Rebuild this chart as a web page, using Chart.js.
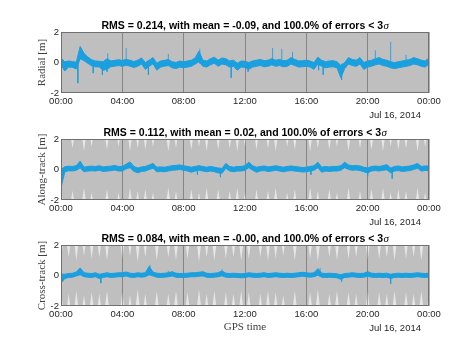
<!DOCTYPE html>
<html><head><meta charset="utf-8">
<script src="https://cdn.jsdelivr.net/npm/chart.js@4.4.1/dist/chart.umd.min.js"></script>
<style>
html,body{margin:0;padding:0;background:#fff;}
body{width:474px;height:355px;overflow:hidden;position:relative;}
canvas{position:absolute;left:0;}
</style></head>
<body>
<canvas id="c1" width="474" height="125" style="top:0px"></canvas>
<canvas id="c2" width="474" height="125" style="top:107px"></canvas>
<canvas id="c3" width="474" height="142" style="top:213px"></canvas>
<script>
// ---- data (hours 0..24 every 0.25 h) ----
const stepHours = 0.25;
const xTickHours = [0, 4, 8, 12, 16, 20, 24];
const yTickValues = [-2, 0, 2];
const dateLabel = 'Jul 16, 2014';

const titles = [
  {text: 'RMS = 0.214, with mean = -0.09, and 100.0% of errors < 3', sym: 'σ'},
  {text: 'RMS = 0.112, with mean = 0.02, and 100.0% of errors < 3', sym: 'σ'},
  {text: 'RMS = 0.084, with mean = -0.00, and 100.0% of errors < 3', sym: 'σ'}
];
const yLabels = ['Radial [m]', 'Along-track [m]', 'Cross-track [m]'];
const xLabel = 'GPS time';
const means = [-0.09, 0.02, 0.00];

// 3-sigma bounds
const radialSig = [2.9,2.6,2.7,2.5,2.8,3.0,2.7,2.6,2.5,2.7,2.8,2.6,2.7,2.5,2.6,2.8,2.7,2.6,2.5,2.7,
  2.8,2.6,2.7,2.5,2.6,2.8,2.7,2.6,2.5,2.7,2.8,2.6,2.7,2.5,2.6,2.8,2.9,2.6,2.5,2.7,
  2.8,2.6,2.7,2.5,2.6,2.8,2.7,2.6,2.5,2.7,2.8,2.6,2.7,2.5,2.6,2.8,2.7,2.6,2.5,2.7,
  2.8,2.6,2.7,2.5,2.6,2.8,2.7,2.6,2.5,2.7,2.8,2.6,2.7,2.5,2.6,2.8,2.7,2.6,2.5,2.7,
  2.8,2.6,2.7,2.5,2.6,2.8,2.7,2.6,2.5,2.7,2.8,2.6,2.7,2.5,2.6,2.8,2.7];
const alongSig = [1.3,3.0,3.1,1.4,3.0,3.1,1.2,3.0,1.5,3.1,3.0,2.9,1.3,3.0,3.1,1.5,3.0,3.1,1.2,3.0,
  1.4,3.1,1.3,3.0,1.5,3.0,3.1,2.9,1.2,3.0,1.4,3.1,3.0,2.9,1.3,3.0,1.5,3.0,1.2,3.1,
  3.0,1.3,3.0,3.1,1.4,3.0,1.2,3.1,1.5,3.0,3.1,1.3,3.0,2.9,1.4,3.0,1.2,3.0,3.1,1.5,
  3.0,1.3,3.1,3.0,2.9,1.2,3.0,1.4,3.1,3.0,1.3,3.0,1.5,3.1,3.0,1.2,3.0,3.1,1.4,3.0,
  2.9,1.3,3.0,3.1,1.2,3.0,1.5,3.1,1.3,3.0,1.4,3.0,3.1,1.2,3.0,1.5,3.0];
const crossSig = [1.1,3.0,1.2,3.1,1.0,3.0,1.3,3.1,1.1,3.0,1.2,3.0,1.0,3.1,2.9,3.0,1.1,3.0,1.3,3.1,
  0.9,3.0,1.2,3.1,3.0,1.0,3.1,3.0,1.2,3.0,1.0,3.1,3.0,1.1,3.0,3.1,0.9,3.0,1.2,3.1,
  1.0,3.0,3.1,1.1,3.0,1.2,3.1,1.0,3.0,1.1,3.1,3.0,1.2,3.0,1.0,3.1,1.1,3.0,1.3,3.1,
  3.0,1.0,3.1,2.9,3.0,1.1,3.1,0.9,3.0,3.1,1.2,3.0,1.0,3.1,3.0,1.1,3.0,1.2,3.1,3.0,
  1.0,3.0,3.1,1.1,3.0,1.2,3.1,1.0,3.0,3.1,1.1,3.0,1.2,3.1,1.0,3.0,1.2];

// error series envelopes (upper / lower)
const radialHi = [0.30,0.05,0.10,0.06,0.02,1.05,0.60,0.36,0.18,0.10,0.08,0.05,0.25,0.10,0.14,0.18,0.14,0.20,0.15,0.06,
  0.15,0.30,0.00,0.15,0.32,-0.05,0.10,0.14,0.20,0.05,0.00,0.10,0.05,0.10,0.15,0.30,0.75,0.15,0.10,0.25,
  0.35,0.15,0.30,0.25,0.10,0.15,-0.05,0.10,0.08,0.00,0.10,0.15,0.20,0.12,0.15,0.25,0.15,0.20,0.12,0.15,
  0.32,0.20,0.10,0.12,0.15,0.10,0.00,0.35,0.15,0.05,0.10,0.12,0.05,-0.20,0.00,0.32,0.20,0.15,0.32,0.00,
  0.10,0.15,0.25,0.32,0.20,0.15,0.05,0.00,0.05,0.10,0.15,0.20,0.32,0.25,0.15,0.10,0.30];
const radialLo = [-0.20,-0.55,-0.30,-0.32,-0.42,0.25,0.12,-0.05,-0.22,-0.28,-0.30,-0.50,-0.45,-0.28,-0.24,-0.20,-0.25,-0.18,-0.24,-0.32,
  -0.25,-0.10,-0.45,-0.25,-0.08,-0.50,-0.30,-0.24,-0.20,-0.35,-0.40,-0.30,-0.35,-0.30,-0.25,-0.10,0.05,-0.25,-0.30,-0.15,
  -0.05,-0.25,-0.10,-0.15,-0.30,-0.25,-0.50,-0.30,-0.32,-0.45,-0.30,-0.25,-0.20,-0.28,-0.25,-0.15,-0.25,-0.20,-0.28,-0.25,
  -0.10,-0.20,-0.30,-0.28,-0.25,-0.30,-0.45,-0.10,-0.25,-0.35,-0.30,-0.28,-0.35,-1.00,-0.40,-0.10,-0.20,-0.25,-0.10,-0.45,
  -0.30,-0.25,-0.15,-0.10,-0.20,-0.25,-0.35,-0.40,-0.35,-0.30,-0.25,-0.20,-0.10,-0.15,-0.25,-0.30,-0.10];
const alongHi = [0.00,0.18,0.22,0.20,0.25,0.55,0.15,0.20,0.22,0.20,0.25,0.17,0.20,0.22,0.27,0.20,0.20,0.35,0.50,0.20,
  0.10,0.17,0.20,0.30,0.40,0.15,0.17,0.15,0.20,0.25,0.27,0.30,0.25,0.20,0.15,0.20,0.25,0.20,0.15,0.20,
  0.15,0.10,0.07,0.40,0.20,0.15,0.20,0.20,0.25,0.48,0.25,0.15,0.20,0.23,0.17,0.20,0.25,0.20,0.15,0.20,
  0.23,0.20,0.17,0.13,0.15,0.20,0.25,0.48,0.15,0.20,0.17,0.20,0.20,0.25,0.48,0.30,0.25,0.27,0.23,0.15,
  0.10,0.20,0.23,0.20,0.25,0.32,0.10,0.20,0.23,0.17,0.20,0.23,0.30,0.40,0.20,0.23,0.23];
const alongLo = [-1.20,-0.15,-0.08,-0.10,-0.05,0.10,-0.15,-0.10,-0.08,-0.10,-0.05,-0.13,-0.10,-0.08,-0.03,-0.10,-0.10,0.05,0.12,-0.12,
  -0.22,-0.13,-0.10,0.00,0.08,-0.15,-0.13,-0.15,-0.10,-0.05,-0.03,0.00,-0.05,-0.10,-0.18,-0.10,-0.05,-0.10,-0.15,-0.10,
  -0.15,-0.22,-0.25,0.08,-0.10,-0.15,-0.10,-0.10,-0.05,0.12,-0.05,-0.18,-0.10,-0.07,-0.13,-0.10,-0.05,-0.10,-0.15,-0.10,
  -0.07,-0.10,-0.13,-0.17,-0.15,-0.10,-0.05,0.12,-0.18,-0.10,-0.13,-0.10,-0.10,-0.05,0.12,0.00,-0.05,-0.03,-0.07,-0.15,
  -0.22,-0.10,-0.07,-0.10,-0.05,-0.02,-0.22,-0.10,-0.07,-0.13,-0.10,-0.07,0.00,0.08,-0.10,-0.07,-0.07];
const crossHi = [0.10,0.08,0.13,0.15,0.23,0.50,0.18,0.15,0.13,0.18,0.08,0.13,0.18,0.13,0.15,0.18,0.18,0.23,0.15,0.13,
  0.18,0.15,0.18,0.60,0.23,0.15,0.13,0.15,0.18,0.25,0.15,0.13,0.13,0.15,0.18,0.18,0.21,0.25,0.15,0.13,
  0.15,0.18,0.30,0.15,0.13,0.15,0.13,0.11,0.13,0.18,0.15,0.13,0.15,0.18,0.13,0.15,0.18,0.15,0.13,0.15,
  0.13,0.15,0.18,0.21,0.18,0.15,0.18,0.45,0.15,0.13,0.15,0.13,0.11,0.05,0.13,0.15,0.18,0.15,0.13,0.15,
  0.25,0.15,0.13,0.15,0.13,0.15,0.08,0.13,0.15,0.13,0.15,0.13,0.15,0.18,0.15,0.13,0.15];
const crossLo = [-0.50,-0.20,-0.13,-0.11,-0.03,0.05,-0.08,-0.11,-0.13,-0.08,-0.20,-0.13,-0.08,-0.13,-0.11,-0.08,-0.08,-0.03,-0.11,-0.13,
  -0.08,-0.11,-0.08,0.05,-0.03,-0.11,-0.13,-0.11,-0.08,-0.03,-0.11,-0.13,-0.13,-0.11,-0.08,-0.08,-0.05,-0.03,-0.11,-0.13,
  -0.11,-0.08,-0.02,-0.11,-0.13,-0.11,-0.13,-0.15,-0.13,-0.08,-0.11,-0.13,-0.11,-0.08,-0.13,-0.11,-0.08,-0.11,-0.13,-0.11,
  -0.13,-0.11,-0.08,-0.05,-0.08,-0.11,-0.08,0.02,-0.11,-0.13,-0.11,-0.13,-0.15,-0.25,-0.13,-0.11,-0.08,-0.11,-0.13,-0.11,
  -0.05,-0.11,-0.13,-0.11,-0.13,-0.11,-0.20,-0.13,-0.11,-0.13,-0.11,-0.13,-0.11,-0.08,-0.11,-0.13,-0.11];

// isolated spikes (hour, value)
const radialSpikeT = [0.03, 1.1, 2.1, 2.7, 3.0, 3.05, 4.25, 5.7, 7.0, 9.05, 11.1, 12.2, 13.8, 14.4, 15.1, 16.8, 17.1, 18.3, 20.5, 21.5, 22.5];
const radialSpikeV = [2.0, -1.35, -0.7, -0.8, -0.6, 0.6, 0.95, -0.8, 0.55, 0.9, -1.0, -0.6, 0.95, 0.9, 0.7, -0.5, -0.8, -1.15, 0.8, 1.35, 0.5];
const alongSpikeT = [0.03, 8.9, 10.4, 16.3, 20.0, 21.6];
const alongSpikeV = [-1.6, -0.35, -0.5, -0.35, -0.45, -0.6];
const crossSpikeT = [2.6, 5.8, 7.0, 10.5, 16.9, 18.3, 21.5];
const crossSpikeV = [-0.5, 0.7, 0.3, 0.4, 0.5, -0.4, -0.55];

// ---- drawing ----
const SANS = '"Liberation Sans", Arial, Helvetica, sans-serif';
const SERIF = '"Liberation Serif", "Times New Roman", serif';
const BLUE = '#1a9fdf';

function pts(arr, sign) {
  return arr.map((v, i) => ({x: i * stepHours, y: sign * v}));
}
function spikePts(ts, vs, base) {
  const out = [];
  ts.forEach((t, i) => { out.push({x: t, y: base}, {x: t, y: vs[i]}, {x: t, y: null}); });
  return out;
}

const deco = {
  id: 'deco',
  beforeDraw(chart, args, o) {
    const {ctx, chartArea: a} = chart;
    ctx.save();
    ctx.fillStyle = '#e6e6e6';
    ctx.fillRect(a.left, a.top, a.right - a.left, a.bottom - a.top);
    ctx.restore();
  },
  afterDraw(chart, args, o) {
    const {ctx, chartArea: a} = chart;
    ctx.save();
    ctx.strokeStyle = '#707070';
    ctx.lineWidth = 1;
    ctx.strokeRect(a.left + 0.5, a.top + 0.5, a.right - a.left - 1, a.bottom - a.top - 1);
    const fMain = 'bold 10.5px ' + SANS;
    const fSym = 'italic 11px ' + SERIF;
    ctx.font = fMain; const w1 = ctx.measureText(o.title.text).width;
    ctx.font = fSym; const w2 = ctx.measureText(o.title.sym).width;
    const cx = (a.left + a.right) / 2;
    const x0 = cx - (w1 + w2) / 2;
    const by = a.top - 3;
    ctx.fillStyle = '#000';
    ctx.textBaseline = 'alphabetic';
    ctx.textAlign = 'left';
    ctx.font = fMain; ctx.fillText(o.title.text, x0, by);
    ctx.font = fSym; ctx.fillText(o.title.sym, x0 + w1 + 0.5, by);
    ctx.font = '9.5px ' + SANS;
    ctx.fillStyle = '#262626';
    ctx.textAlign = 'right';
    ctx.fillText(dateLabel, a.right - 8, a.bottom + 25);
    ctx.restore();
  }
};

function makeChart(id, idx, sig, hi, lo, spT, spV, xH, showX) {
  const ctx = document.getElementById(id).getContext('2d');
  return new Chart(ctx, {
    type: 'line',
    data: {
      datasets: [
        {data: pts(sig, 1), order: 10, fill: '+1', backgroundColor: 'rgba(0,0,0,0.17)', borderColor: 'transparent', borderWidth: 0, pointRadius: 0},
        {data: pts(sig, -1), order: 9, fill: false, borderColor: 'transparent', borderWidth: 0, pointRadius: 0},
        {data: pts(hi, 1), order: 2, fill: '+1', backgroundColor: BLUE, borderColor: BLUE, borderWidth: 1, pointRadius: 0},
        {data: pts(lo, 1), order: 1, fill: false, borderColor: BLUE, borderWidth: 1, pointRadius: 0},
        {data: spikePts(spT, spV, means[idx]), order: 0, fill: false, borderColor: 'rgba(26,159,223,0.85)', borderWidth: 1, pointRadius: 0, spanGaps: false}
      ]
    },
    options: {
      responsive: false,
      animation: false,
      devicePixelRatio: 1,
      layout: {padding: {top: 32, right: 45, left: 0, bottom: 0}},
      plugins: {
        legend: {display: false},
        tooltip: {enabled: false},
        deco: {title: titles[idx]}
      },
      scales: {
        x: {
          type: 'linear', min: 0, max: 24,
          afterBuildTicks: s => { s.ticks = xTickHours.map(v => ({value: v})); },
          afterFit: s => { s.height = xH; },
          ticks: {
            autoSkip: false, maxRotation: 0, padding: 3, color: '#262626',
            font: {family: SANS, size: 9.5},
            callback: v => String(v % 24).padStart(2, '0') + ':00'
          },
          grid: {color: 'rgba(0,0,0,0.3)', lineWidth: 1, drawTicks: false},
          border: {display: false},
          title: {display: showX, text: xLabel, color: '#404040', font: {family: SERIF, size: 11}, padding: {top: 0, bottom: 21}}
        },
        y: {
          min: -2, max: 2,
          afterBuildTicks: s => { s.ticks = yTickValues.map(v => ({value: v})); },
          afterFit: s => { s.width = 61; },
          ticks: {padding: 2, color: '#262626', font: {family: SANS, size: 9.5}, callback: v => String(v)},
          grid: {display: false, drawTicks: false},
          border: {display: false},
          title: {display: true, text: yLabels[idx], color: '#404040', font: {family: SERIF, size: 11}, padding: {top: 36, bottom: 0}}
        }
      }
    },
    plugins: [deco]
  });
}

makeChart('c1', 0, radialSig, radialHi, radialLo, radialSpikeT, radialSpikeV, 32, false);
makeChart('c2', 1, alongSig, alongHi, alongLo, alongSpikeT, alongSpikeV, 32, false);
makeChart('c3', 2, crossSig, crossHi, crossLo, crossSpikeT, crossSpikeV, 49, true);
</script>
</body></html>
